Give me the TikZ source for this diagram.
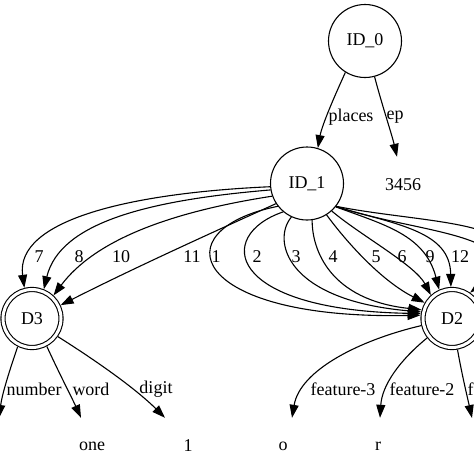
\documentclass[tikz,border=0pt]{standalone}
\usepackage{fontspec}
\setmainfont{Liberation Serif}
\usepackage{tikz}
\usetikzlibrary{arrows.meta}

\begin{document}
\begin{tikzpicture}[x=1pt, y=-1pt,
          idnode/.style={circle, draw, line width=1.1pt, minimum size=73pt,
                         inner sep=0pt, font=\fontsize{18}{20}\selectfont},
          dnode/.style={circle, draw, double, double distance=3pt, line width=1.1pt,
                        minimum size=58pt, inner sep=0pt, outer sep=2.6pt,
                        font=\fontsize{18}{20}\selectfont},
          leaf/.style={inner sep=0pt, minimum height=56pt, font=\fontsize{18}{20}\selectfont},
          lbl/.style={inner sep=0pt, font=\fontsize{18}{20}\selectfont},
          arr/.style={-{Triangle[length=13pt,width=9pt]}, line width=1.1pt}
        ]
        \useasboundingbox (0,0) rectangle (474,474);
        \clip (0,0) rectangle (474,474);

        % id nodes
        \node[idnode] (ID0) at (365,41) {ID\_0};
        \node[idnode] (ID1) at (307,183.5) {ID\_1};
        \node[leaf] (val) at (403,185) {3456};

        % document nodes
        \node[dnode] (D3) at (32,318.5) {D3};
        \node[dnode] (D2) at (452,318.5) {D2};

        % leaves
        \node[leaf] (one) at (92,446) {one};
        \node[leaf] (dig) at (188,446) {1};
        \node[leaf] (lo) at (283,446) {o};
        \node[leaf] (lr) at (378,446) {r};
        \coordinate (numT) at (-1,418);
        \coordinate (fT) at (472,418);

        % ID_0 edges
        \draw[arr] (ID0.238) .. controls (335,95) and (322,125) .. (ID1.73)
              node[lbl] at (351,117) {places};
        \draw[arr] (ID0.285) .. controls (382,105) and (392,135) .. ([xshift=-6pt]val.north)
              node[lbl] at (395,117) {ep};

        % ID_1 -> D3
        \draw[arr] (ID1.185) .. controls (130,193) and (15,220) .. (D3.104)
              node[lbl] at (39,257) {7};
        \draw[arr] (ID1.190) .. controls (150,200) and (60,222) .. (D3.68)
              node[lbl] at (79,257) {8};
        \draw[arr] (ID1.200) .. controls (170,212) and (95,240) .. (D3.47)
              node[lbl] at (121,257) {10};
        \draw[arr] (ID1.213) .. controls (200,238) and (130,270) .. (D3.25)
              node[lbl] at (192,257) {11};

        % ID_1 -> D2
        \draw[arr] (ID1.218) .. controls (160,230) and (190,320) .. (D2.174)
              node[lbl] at (216,257) {1};
        \draw[arr] (ID1.230) .. controls (215,235) and (225,310) .. (D2.171)
              node[lbl] at (257,257) {2};
        \draw[arr] (ID1.245) .. controls (272,240) and (285,300) .. (D2.168)
              node[lbl] at (296,257) {3};
        \draw[arr] (ID1.278) .. controls (312,250) and (330,300) .. (D2.164)
              node[lbl] at (333,257) {4};
        \draw[arr] (ID1.302) .. controls (345,240) and (380,280) .. (D2.150)
              node[lbl] at (376,257) {5};
        \draw[arr] (ID1.312) .. controls (360,235) and (415,265) .. (D2.132)
              node[lbl] at (402,257) {6};
        \draw[arr] (ID1.321) .. controls (385,225) and (425,235) .. (D2.114)
              node[lbl] at (430,257) {9};
        \draw[arr] (ID1.321) .. controls (400,225) and (450,232) .. (D2.92)
              node[lbl] at (460,257) {12};
        \draw[arr] (ID1.322) .. controls (430,225) and (560,220) .. (D2.55);
        \draw[arr] (ID1.322) .. controls (420,235) and (540,232) .. (D2.20);

        % D3 -> leaves
        \draw[arr] (D3.243) .. controls (8,375) and (2,395) .. (numT)
              node[lbl] at (34,389) {number};
        \draw[arr] (D3.298) .. controls (60,375) and (72,398) .. ([xshift=-11pt]one.north)
              node[lbl] at (91,389) {word};
        \draw[arr] (D3.325) .. controls (95,360) and (135,388) .. ([xshift=-23pt]dig.north)
              node[lbl] at (156,389) {digit};

        % D2 -> leaves
        \draw[arr] (D2.193) .. controls (360,340) and (300,370) .. ([xshift=9pt]lo.north)
              node[lbl] at (343,389) {feature-3};
        \draw[arr] (D2.218) .. controls (400,360) and (382,385) .. ([xshift=2pt]lr.north)
              node[lbl] at (422,389) {feature-2};
        \draw[arr] (D2.280) .. controls (462,375) and (468,400) .. (fT)
              node[lbl, anchor=west] at (467,389) {feature-1};
      \end{tikzpicture}
\end{document}
